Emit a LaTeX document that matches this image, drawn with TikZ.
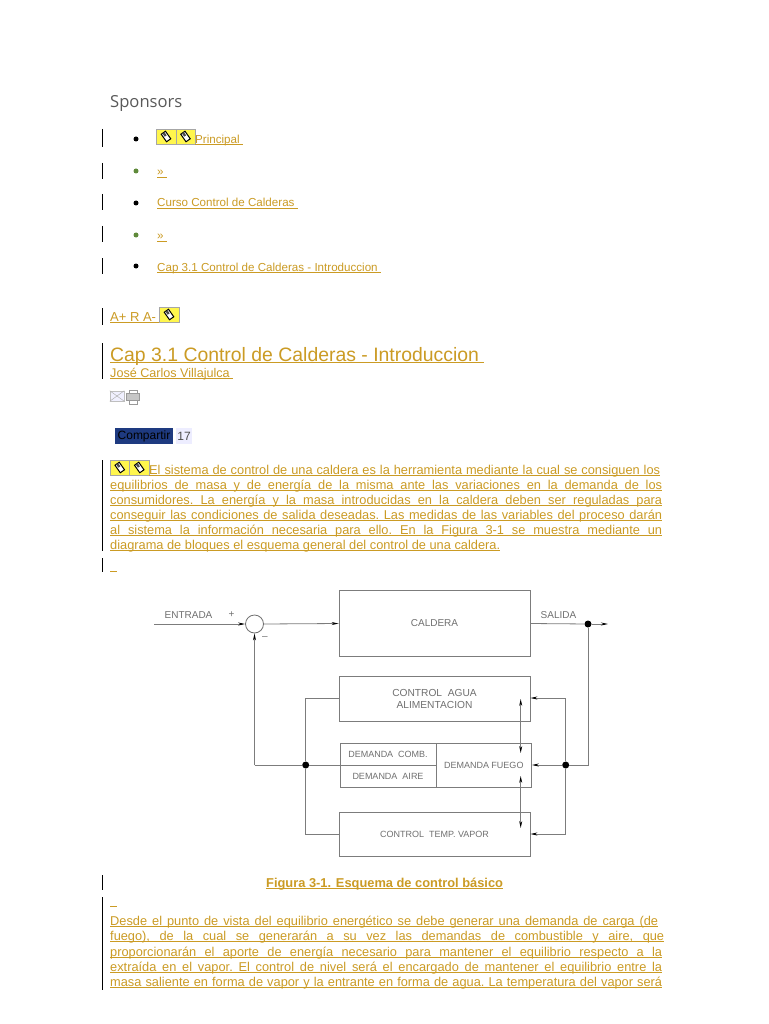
\documentclass[tikz,border=0pt]{standalone}
\usepackage{fontspec}
\setmainfont{Liberation Sans}
\newfontfamily\sponsorfont{Open Sans}
\usetikzlibrary{arrows.meta}
\definecolor{linkc}{HTML}{CB9B24}
\definecolor{diag}{HTML}{707070}
\definecolor{cadline}{HTML}{7C7C7C}
\definecolor{bull}{HTML}{5F8A3A}
\definecolor{sharebg}{HTML}{1E3A80}
\newcommand{\ul}[1]{\leavevmode\setbox0=\hbox{#1}\rlap{\raisebox{-1.7pt}{\rule{\wd0}{.8pt}}}\box0}
\newcommand{\just}[2]{\ul{\makebox[#1pt][s]{#2}}}
\newcommand{\glyph}[2]{%
  \draw[black,line width=1pt,fill=white,rotate around={35:(#1,#2)}] (#1-2.6,#2-4.6) rectangle (#1+2.6,#2+4.6);
  \fill[black!70,rotate around={35:(#1,#2)}] (#1-1.2,#2-4.4) rectangle (#1+1.2,#2-.6);
}
\tikzset{
  x=1pt,y=-1pt,
  iconbox/.style={draw=gray!70,fill=yellow!70,minimum width=19.5pt,minimum height=15pt,inner sep=0,line width=.5pt},
  link/.style={anchor=base west,inner sep=0,text=linkc,font=\frenchspacing\fontsize{11.6}{14}\selectfont},
  bodyl/.style={anchor=base west,inner sep=0,text=linkc,font=\frenchspacing\fontsize{12.8}{14}\selectfont},
  bar/.style={black,line width=1pt},
  dot/.style={circle,fill=#1,inner sep=0,minimum size=5pt},
  cad/.style={draw=cadline,line width=.8pt},
  cadbox/.style={cad,inner sep=0,text=diag,align=center,font=\fontsize{9}{12}\selectfont},
  cadtext/.style={inner sep=0,text=diag,font=\fontsize{10}{11}\selectfont},
  junction/.style={circle,fill=black,inner sep=0,minimum size=7pt},
  tip/.style={-{Stealth[length=7pt,width=3pt,black]}},
  tips/.style={{Stealth[length=7pt,width=3pt,black]}-{Stealth[length=7pt,width=3pt,black]}},
}
\begin{document}
\begin{tikzpicture}
\useasboundingbox (0,0) rectangle (768,1024);
\fill[white] (0,0) rectangle (768,1024);
% margin bars
\foreach \a/\b in {129/147,163/179,194/210,226/242,258/274,308/325,343/379,460/551,558/572,875/890,897/990}
  \draw[bar] (102,\a) -- (102,\b);
\node[anchor=base west,inner sep=0,text=black!65,font=\sponsorfont\fontsize{16.6}{18}\selectfont] (spons) at (110,107.5) {Sponsors};
% list
\node[dot=black] (b1) at (136,139) {};
\node[dot=bull] (b2) at (136,171) {};
\node[dot=black] (b3) at (136,203) {};
\node[dot=bull] (b4) at (136,235) {};
\node[dot=black] (b5) at (136,266) {};
\node[iconbox] (ia) at (166,136.5) {};
\node[iconbox] (ib) at (185.5,136.5) {};
\glyph{166}{136.5}
\glyph{185.5}{136.5}
\node[link] (l1) at (195,143.5) {\ul{Principal\ }};
\node[link] (l2) at (157,176) {\ul{»\ }};
\node[link] (l3) at (157,207) {\ul{Curso Control de Calderas\ }};
\node[link] (l4) at (157,240) {\ul{»\ }};
\node[link] (l5) at (157,271) {\ul{Cap 3.1 Control de Calderas - Introduccion\ }};
% tools
\node[link,font=\fontsize{13}{15}\selectfont] (ar) at (110,321) {\ul{A+ R A-\ }};
\node[iconbox] (ic) at (169,314.5) {};
\glyph{169}{314.5}
\node[link,font=\fontsize{19.4}{22}\selectfont] (title) at (110,361) {\ul{Cap 3.1 Control de Calderas - Introduccion\ }};
\node[link,font=\fontsize{12.6}{15}\selectfont] (author) at (110,377) {\ul{José Carlos Villajulca\ }};
% mail and printer
\node[draw=gray!50,fill=blue!6,minimum width=14pt,minimum height=10pt,inner sep=0,line width=.5pt] (mail) at (117,396) {};
\draw[gray!60,line width=.5pt] (mail.north west) -- (mail.center) -- (mail.north east);
\draw[gray!60,line width=.5pt] (mail.south west) -- (mail.center) -- (mail.south east);
\node[draw=gray!80,fill=gray!45,minimum width=13pt,minimum height=7pt,inner sep=0,line width=.5pt] (printer) at (133,397) {};
\draw[gray!80,fill=white,line width=.5pt] (129,390) rectangle (137,393.5);
\draw[gray!80,fill=white,line width=.5pt] (129,400.5) rectangle (137,404);
% share
\node[fill=sharebg,text=black,minimum width=58pt,minimum height=16pt,inner sep=0,font=\fontsize{12}{14}\selectfont] (share) at (144,436) {Compartir};
\node[fill=blue!7,text=black!70,minimum width=16pt,minimum height=16pt,inner sep=0,font=\fontsize{12}{14}\selectfont] (count) at (184,436) {17};
% paragraph 1
\node[iconbox] (id) at (119.75,467.5) {};
\node[iconbox] (ie) at (139.25,467.5) {};
\glyph{119.75}{467.5}
\glyph{139.25}{467.5}
\node[bodyl] (p1) at (149,474) {\just{511}{El sistema de control de una caldera es la herramienta mediante la cual se consiguen los}};
\node[bodyl] (p2) at (110,489) {\just{552}{equilibrios de masa y de energía de la misma ante las variaciones en la demanda de los}};
\node[bodyl] (p3) at (110,504) {\just{552}{consumidores. La energía y la masa introducidas en la caldera deben ser reguladas para}};
\node[bodyl] (p4) at (110,519) {\just{552}{conseguir las condiciones de salida deseadas. Las medidas de las variables del proceso darán}};
\node[bodyl] (p5) at (110,534) {\just{552}{al sistema la información necesaria para ello. En la Figura 3-1 se muestra mediante un}};
\node[bodyl] (p6) at (110,549) {\ul{diagrama de bloques el esquema general del control de una caldera.}};
\node[link] (sp1) at (110,570) {\ul{\ \ }};
% diagram
\node[cadbox,minimum width=191pt,minimum height=66.5pt,font=\fontsize{10}{12}\selectfont] (caldera) at (434.5,623.5) {CALDERA};
\node[cadbox,minimum width=191pt,minimum height=45pt,font=\fontsize{10.2}{12}\selectfont] (agua) at (434.5,698.5) {CONTROL\ \ AGUA\\ALIMENTACION};
\node[cadbox,minimum width=96pt,minimum height=22pt] (comb) at (388,754) {DEMANDA\ \ COMB.};
\node[cadbox,minimum width=96pt,minimum height=22pt] (aire) at (388,776) {DEMANDA\ \ AIRE};
\node[cadbox,minimum width=95.5pt,minimum height=44pt] (fuego) at (483.75,765) {DEMANDA\ FUEGO};
\node[cadbox,minimum width=191pt,minimum height=44pt] (vapor) at (434.5,834) {CONTROL\ \ TEMP.\ VAPOR};
\node[circle,draw=diag,line width=.8pt,minimum size=18pt,inner sep=0] (sum) at (254.5,624) {};
\node[junction] (jl) at (305.7,765) {};
\node[junction] (jr) at (565.7,765) {};
\node[junction] (js) at (588,624) {};
\node[cadtext] (entrada) at (188.5,615) {ENTRADA};
\node[cadtext] (plus) at (231.5,615) {+};
\node[cadtext] (minus) at (265,638) {--};
\node[cadtext] (salida) at (558.5,615) {SALIDA};
\coordinate (in) at (154,624);
\coordinate (out) at (608,624);
\coordinate (fb) at (254.5,765);
\coordinate (ljt) at (305.7,698);
\coordinate (ljb) at (305.7,834);
\coordinate (rjt) at (565.7,698);
\coordinate (rjb) at (565.7,834);
\coordinate (sjb) at (588,765);
\coordinate (uA) at (520.7,699);
\coordinate (uB) at (520.7,753);
\coordinate (dA) at (520.7,776);
\coordinate (dB) at (520.7,828);
\draw[cad,tip] (in) -- (sum.west);
\draw[cad,tip] (sum.east) -- (caldera.west);
\draw[cad] (caldera.east) -- (js);
\draw[cad,tip] (js) -- (out);
\draw[cad] (js) -- (sjb) -- (jr);
\draw[cad,tip] (jr) -- (fuego.east);
\draw[cad] (jr) -- (rjt);
\draw[cad] (jr) -- (rjb);
\draw[cad,tip] (rjt) -- (agua.east |- rjt);
\draw[cad,tip] (rjb) -- (vapor.east |- rjb);
\draw[cad,tip] (fb) -- (sum.south);
\draw[cad] (fb) -- (jl);
\draw[cad] (jl) -- (fuego.west);
\draw[cad] (jl) -- (ljt) -- (agua.west |- ljt);
\draw[cad] (jl) -- (ljb) -- (vapor.west |- ljb);
\draw[cad,tips] (uA) -- (uB);
\draw[cad,tips] (dA) -- (dB);
% caption
\node[link,font=\bfseries\fontsize{12.85}{14}\selectfont] (cap) at (266,887) {\ul{Figura 3-1. Esquema de control básico}};
\node[link] (sp2) at (110,905) {\ul{\ \ }};
% paragraph 2
\node[bodyl] (q1) at (110,925) {\just{548}{Desde el punto de vista del equilibrio energético se debe generar una demanda de carga (de}};
\node[bodyl] (q2) at (110,940) {\just{554}{fuego), de la cual se generarán a su vez las demandas de combustible y aire, que}};
\node[bodyl] (q3) at (110,956) {\just{552}{proporcionarán el aporte de energía necesario para mantener el equilibrio respecto a la}};
\node[bodyl] (q4) at (110,971) {\just{552}{extraída en el vapor. El control de nivel será el encargado de mantener el equilibrio entre la}};
\node[bodyl] (q5) at (110,986) {\just{552}{masa saliente en forma de vapor y la entrante en forma de agua. La temperatura del vapor será}};
\end{tikzpicture}
\end{document}
